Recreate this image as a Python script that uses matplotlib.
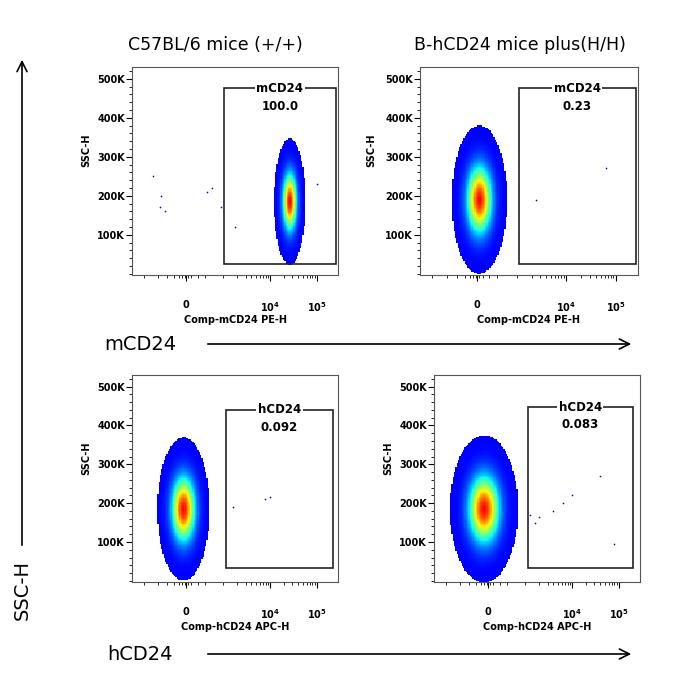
import numpy as np
import matplotlib
matplotlib.use('Agg')
import matplotlib.pyplot as plt

W, H = 694, 676

col_titles = ['C57BL/6 mice (+/+)', 'B-hCD24 mice plus(H/H)']
markers = ['mCD24', 'hCD24']
xlabels = ['Comp-mCD24 PE-H', 'Comp-mCD24 PE-H', 'Comp-hCD24 APC-H', 'Comp-hCD24 APC-H']
gate_values = ['100.0', '0.23', '0.092', '0.083']
# cloud centre (x in decade units, y in K), spread (x, y)
cloud_x = [4.42, 2.25, 2.15, 2.12]
cloud_y = [185, 190, 185, 185]
cloud_sx = [0.12, 0.2, 0.2, 0.26]
cloud_sy = [58, 68, 66, 68]
# gate box: x0, x1 (decade units), y0, y1 (K)
gate_x0 = [3.02, 3.05, 3.05, 3.05]
gate_x1 = [5.40, 5.40, 5.35, 5.30]
gate_y0 = [25, 25, 32, 34]
gate_y1 = [475, 475, 440, 447]
# sparse events
outlier_x = [[1.5, 1.65, 1.68, 1.75, 2.65, 2.75, 2.95, 3.25, 5.0],
             [3.4, 4.8],
             [3.9, 4.0, 3.2],
             [3.3, 3.6, 3.8, 4.0, 4.6, 4.9, 3.1, 3.2]]
outlier_y = [[250, 170, 200, 160, 210, 220, 170, 120, 230],
             [190, 270],
             [210, 215, 190],
             [165, 180, 200, 220, 270, 95, 170, 150]]

ytick_vals = [100, 200, 300, 400, 500]
ytick_labels = ['100K', '200K', '300K', '400K', '500K']

# axes boxes in pixels: left, top, right, bottom
boxes = [(132, 67, 338, 275), (420, 67, 638, 275),
         (132, 375, 338, 582), (434, 375, 640, 582)]

fig = plt.figure(figsize=(W / 100, H / 100), dpi=100)


def px_axes(l, t, r, b):
    return fig.add_axes([l / W, 1 - b / H, (r - l) / W, (b - t) / H])


for i, (l, t, r, b) in enumerate(boxes):
    ax = px_axes(l, t, r, b)
    ax.set_xlim(1.05, 5.45)
    ax.set_ylim(-3, 530)
    # density cloud
    gx = np.linspace(1.05, 5.45, 160)
    gy = np.linspace(-3, 530, 160)
    X, Y = np.meshgrid(gx, gy)
    Z = np.exp(-0.5 * (((X - cloud_x[i]) / cloud_sx[i]) ** 2 + ((Y - cloud_y[i]) / cloud_sy[i]) ** 2))
    C = np.ma.masked_where(Z < 0.02, 0.12 + 0.78 * Z ** 1.6)
    ax.pcolormesh(X, Y, C, cmap='jet', vmin=0, vmax=1, shading='auto', rasterized=True)
    ax.scatter(outlier_x[i], outlier_y[i], s=1.5, color='blue', lw=0)
    # gate
    ax.add_patch(plt.Rectangle((gate_x0[i], gate_y0[i]), gate_x1[i] - gate_x0[i],
                               gate_y1[i] - gate_y0[i], fill=False, lw=1.2, ec='#222222'))
    mk = markers[i // 2]
    gxm = (gate_x0[i] + gate_x1[i]) / 2
    ax.text(gxm, gate_y1[i], mk, ha='center', va='center', fontsize=8.5, fontweight='bold',
            bbox=dict(fc='white', ec='none', pad=1))
    ax.text(gxm, gate_y1[i] - 45, gate_values[i], ha='center', va='center', fontsize=8.5, fontweight='bold')
    # y axis
    ax.set_yticks(ytick_vals)
    ax.set_yticklabels(ytick_labels, fontsize=7, fontweight='bold')
    ax.set_yticks(np.arange(0, 530, 20), minor=True)
    ax.set_ylabel('SSC-H', fontsize=7, fontweight='bold')
    ax.yaxis.set_label_coords(-0.2, 0.6)
    # x axis: logicle-like
    ax.set_xticks([2.2, 4.0, 5.0])
    ax.set_xticklabels(['0', '$\\mathbf{10^4}$', '$\\mathbf{10^5}$'], fontsize=7, fontweight='bold')
    ax.tick_params(axis='x', which='major', length=4, pad=14)
    minors = [1.3, 1.6, 1.8, 1.95, 2.05, 2.12, 2.18, 2.25, 2.32, 2.45, 2.6, 3.0]
    minors += [3 + np.log10(k) for k in range(2, 10)] + [4 + np.log10(k) for k in range(2, 10)]
    ax.set_xticks(minors, minor=True)
    ax.tick_params(which='minor', length=2)
    ax.tick_params(axis='y', which='major', length=4, pad=1)
    ax.set_xlabel(xlabels[i], fontsize=7, fontweight='bold', labelpad=1)
    for s in ax.spines.values():
        s.set_color('#555555')

# column titles
fig.text(215 / W, 1 - 45 / H, col_titles[0], ha='center', va='center', fontsize=12.5)
fig.text(520 / W, 1 - 45 / H, col_titles[1], ha='center', va='center', fontsize=12.5)

# marker arrows
for lbl, yy in [(markers[0], 344), (markers[1], 654)]:
    fig.text(140 / W, 1 - yy / H, lbl, ha='center', va='center', fontsize=14)
    fig.add_artist(matplotlib.patches.FancyArrowPatch(
        (205 / W, 1 - yy / H), (634 / W, 1 - yy / H), transform=fig.transFigure,
        arrowstyle='->', mutation_scale=18, lw=1.2, color='black'))

# SSC-H arrow
fig.text(22 / W, 1 - 590 / H, 'SSC-H', rotation=90, ha='center', va='center', fontsize=14)
fig.add_artist(matplotlib.patches.FancyArrowPatch(
    (22 / W, 1 - 548 / H), (22 / W, 1 - 57 / H), transform=fig.transFigure,
    arrowstyle='->', mutation_scale=18, lw=1.2, color='black'))

fig.savefig('out.png', dpi=100)
